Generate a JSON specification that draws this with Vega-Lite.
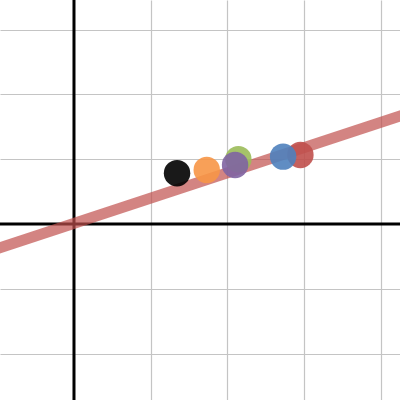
{
  "$schema": "https://vega.github.io/schema/vega-lite/v6.json",
  "width": 400,
  "height": 400,
  "autosize": {"type": "none"},
  "padding": 0,
  "background": "white",
  "config": {"view": {"stroke": null}},
  "layer": [
    {
      "data": {"values": [{"x": 0}]},
      "mark": {"type": "rule", "color": "black", "strokeWidth": 3},
      "encoding": {
        "x": {"field": "x", "type": "quantitative",
          "scale": {"domain": [-0.964, 4.248], "nice": false, "zero": false},
          "axis": {"values": [-1, 0, 1, 2, 3, 4], "grid": true, "gridColor": "#c4c4c4", "gridWidth": 1.2, "gridOpacity": 1, "labels": false, "ticks": false, "domain": false, "title": null}}
      }
    },
    {
      "data": {"values": [{"y": 0}]},
      "mark": {"type": "rule", "color": "black", "strokeWidth": 3},
      "encoding": {
        "y": {"field": "y", "type": "quantitative",
          "scale": {"domain": [-2.716, 3.457], "nice": false, "zero": false},
          "axis": {"values": [-3, -2, -1, 0, 1, 2, 3], "grid": true, "gridColor": "#c4c4c4", "gridWidth": 1.2, "gridOpacity": 1, "labels": false, "ticks": false, "domain": false, "title": null}}
      }
    },
    {
      "data": {"values": [{"x": -1.2, "y": -0.458}, {"x": 4.5, "y": 1.765}]},
      "mark": {"type": "line", "color": "#c0504d", "strokeWidth": 11, "opacity": 0.7, "clip": true},
      "encoding": {
        "x": {"field": "x", "type": "quantitative"},
        "y": {"field": "y", "type": "quantitative"}
      }
    },
    {
      "data": {"values": [
        {"name": "red", "x": 2.95, "y": 1.066},
        {"name": "green", "x": 2.142, "y": 1.0},
        {"name": "black", "x": 1.343, "y": 0.784},
        {"name": "orange", "x": 1.73, "y": 0.835},
        {"name": "purple", "x": 2.099, "y": 0.912},
        {"name": "blue", "x": 2.725, "y": 1.04}
      ]},
      "mark": {"type": "circle", "size": 700, "opacity": 0.9},
      "encoding": {
        "x": {"field": "x", "type": "quantitative"},
        "y": {"field": "y", "type": "quantitative"},
        "color": {"field": "name", "type": "nominal", "legend": null,
          "scale": {"domain": ["red", "green", "black", "orange", "purple", "blue"],
                    "range": ["#c0504d", "#9bbb59", "#000000", "#f79646", "#8064a2", "#4f81bd"]}}
      }
    }
  ]
}
